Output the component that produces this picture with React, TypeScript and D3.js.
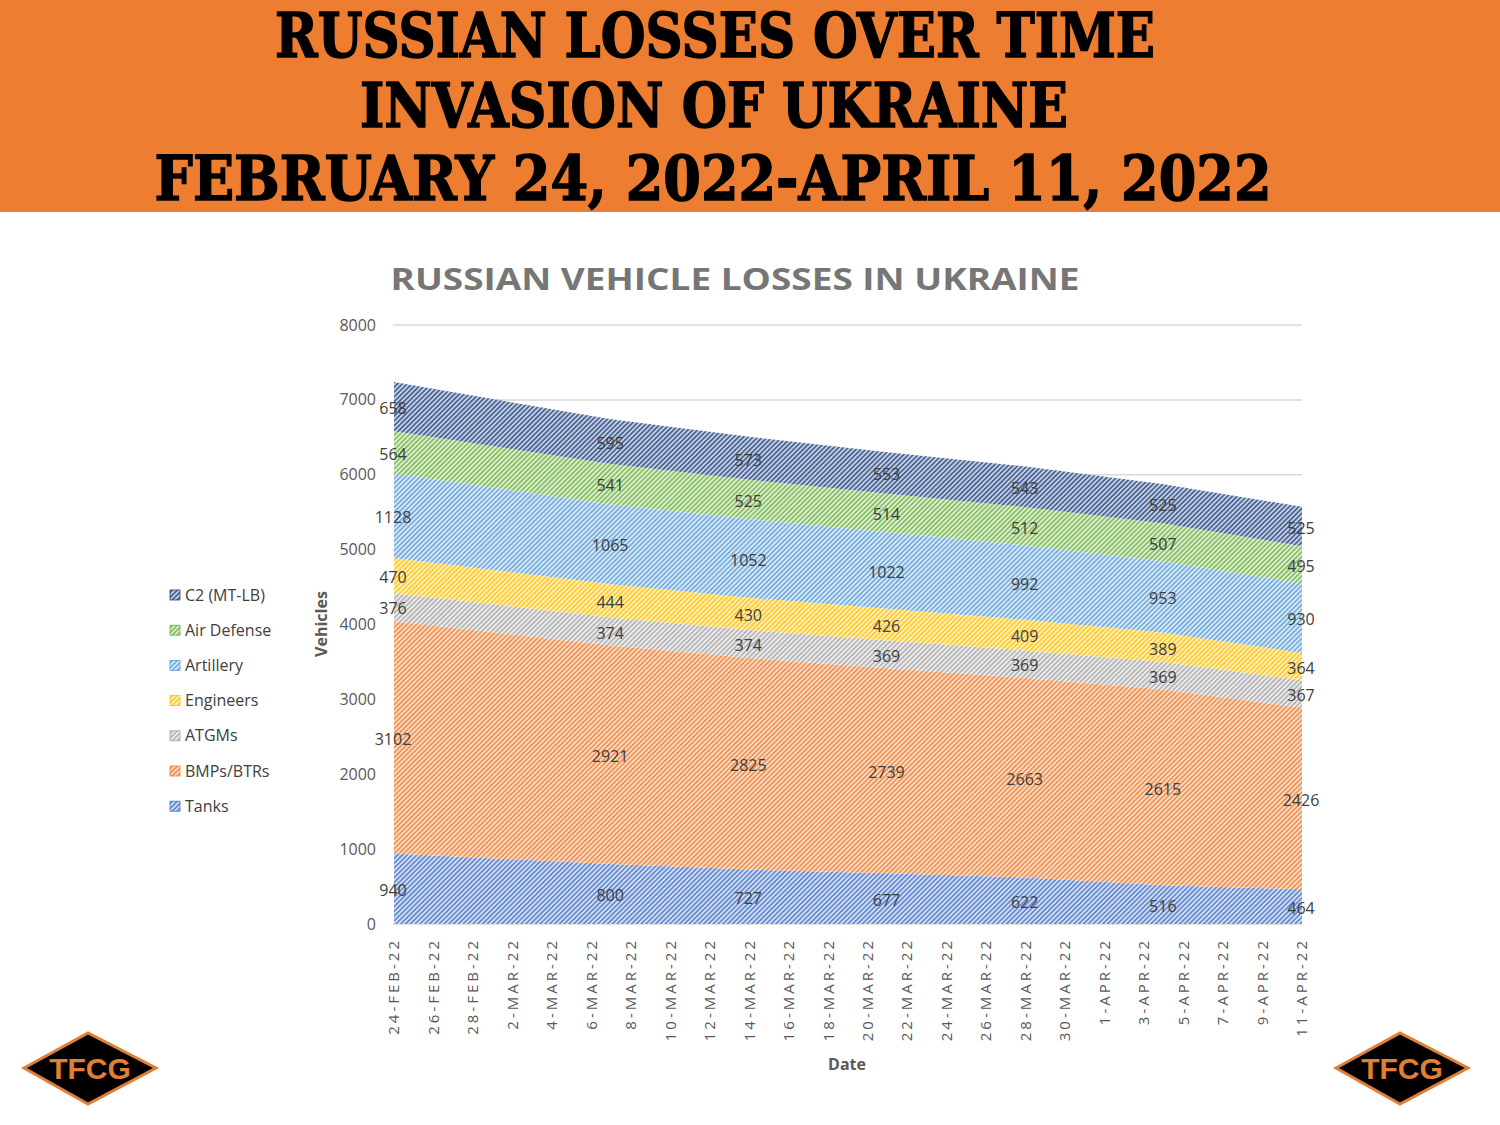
import React from "react";
import * as d3 from "d3";

const dates = ["2022-02-24", "2022-03-07", "2022-03-14", "2022-03-21", "2022-03-28", "2022-04-04", "2022-04-11"];
const seriesNames = ["Tanks", "BMPs/BTRs", "ATGMs", "Engineers", "Artillery", "Air Defense", "C2 (MT-LB)"];
const tanks = [940, 800, 727, 677, 622, 516, 464];
const bmps = [3102, 2921, 2825, 2739, 2663, 2615, 2426];
const atgms = [376, 374, 374, 369, 369, 369, 367];
const engineers = [470, 444, 430, 426, 409, 389, 364];
const artillery = [1128, 1065, 1052, 1022, 992, 953, 930];
const airDefense = [564, 541, 525, 514, 512, 507, 495];
const c2 = [658, 595, 573, 553, 543, 525, 525];
const yTicks = [0, 1000, 2000, 3000, 4000, 5000, 6000, 7000, 8000];
const xTickDates = [
  "2022-02-24", "2022-02-26", "2022-02-28", "2022-03-02", "2022-03-04", "2022-03-06",
  "2022-03-08", "2022-03-10", "2022-03-12", "2022-03-14", "2022-03-16", "2022-03-18",
  "2022-03-20", "2022-03-22", "2022-03-24", "2022-03-26", "2022-03-28", "2022-03-30",
  "2022-04-01", "2022-04-03", "2022-04-05", "2022-04-07", "2022-04-09", "2022-04-11",
];
const colors = ["#4472C4", "#ED7D31", "#A5A5A5", "#FFC000", "#5B9BD5", "#70AD47", "#264478"];
const bgColors = ["#d3def5", "#fcdcc6", "#ececec", "#fff0bf", "#d8e9f8", "#dcf0cf", "#c4cfe6"];

const parse = d3.timeParse("%Y-%m-%d");
const fmt = d3.timeFormat("%-d-%b-%y");

export default function App() {
  const W = 1500, H = 1125;
  const x = d3.scaleTime().domain([parse(dates[0])!, parse(dates[dates.length - 1])!]).range([394, 1302]);
  const y = d3.scaleLinear().domain([0, 8000]).range([924, 325]);
  const all = [tanks, bmps, atgms, engineers, artillery, airDefense, c2];
  const rows = dates.map((d, i) => {
    const r: any = { date: parse(d) };
    seriesNames.forEach((s, k) => (r[s] = all[k][i]));
    return r;
  });
  const stack = d3.stack().keys(seriesNames)(rows as any);
  const area = d3
    .area<any>()
    .x((d) => x(d.data.date))
    .y0((d) => y(d[0]))
    .y1((d) => y(d[1]));
  const txt = "#404040";
  const font = "'Open Sans', sans-serif";
  const P = 3.4;

  return (
    <div style={{ position: "absolute", left: 0, top: 0 }}>
      <svg width={W} height={H} style={{ display: "block", background: "#fff" }}>
        <defs>
          {colors.map((c, k) => (
            <pattern key={k} id={`hatch${k}`} patternUnits="userSpaceOnUse" width={P} height={P} patternTransform="rotate(45)">
              <rect width={P} height={P} fill={bgColors[k]} />
              <line x1={P / 2} y1={0} x2={P / 2} y2={P} stroke={c} strokeWidth={1.3} />
            </pattern>
          ))}
        </defs>
        {/* header */}
        <rect x={0} y={0} width={W} height={212} fill="#ED7D31" />
        <g fontFamily="'DejaVu Serif', serif" fontWeight={900} fill="#000" stroke="#000" strokeWidth={1.5} textAnchor="middle">
          <text x={715} y={57} fontSize={62} textLength={880} lengthAdjust="spacingAndGlyphs">RUSSIAN LOSSES OVER TIME</text>
          <text x={714} y={127} fontSize={62} textLength={708} lengthAdjust="spacingAndGlyphs">INVASION OF UKRAINE</text>
          <text x={713} y={200} fontSize={62} textLength={1117} lengthAdjust="spacingAndGlyphs">FEBRUARY 24, 2022-APRIL 11, 2022</text>
        </g>
        {/* chart title */}
        <text x={735} y={290} fontFamily={font} fontWeight={700} fontSize={31} fill="#767676" textAnchor="middle" textLength={689} lengthAdjust="spacingAndGlyphs">
          RUSSIAN VEHICLE LOSSES IN UKRAINE
        </text>
        {/* gridlines */}
        {yTicks.map((t) => (
          <line key={t} x1={393} x2={1302} y1={y(t)} y2={y(t)} stroke="#d9d9d9" strokeWidth={1.5} />
        ))}
        {/* areas */}
        {stack.map((s, k) => (
          <path key={k} d={area(s as any) || ""} fill={`url(#hatch${k})`} />
        ))}
        {/* y tick labels */}
        {yTicks.map((t) => (
          <text key={t} x={376} y={y(t)} dy="0.35em" textAnchor="end" fontFamily={font} fontSize={16} fill="#595959">
            {t}
          </text>
        ))}
        {/* data labels */}
        {stack.map((s, k) =>
          s.map((d: any, i: number) => (
            <text key={`${k}-${i}`} x={x(d.data.date) - 1} y={y((d[0] + d[1]) / 2)} dy="0.45em" textAnchor="middle" fontFamily={font} fontSize={16} fill={txt}>
              {all[k][i]}
            </text>
          ))
        )}
        {/* x tick labels */}
        {xTickDates.map((ds) => {
          const dd = parse(ds)!;
          return (
            <text key={ds} transform={`translate(${x(dd)},938) rotate(-90)`} dy="0.35em" textAnchor="end" fontFamily={font} fontSize={15} letterSpacing={3} fill="#595959">
              {fmt(dd).toUpperCase()}
            </text>
          );
        })}
        {/* axis titles */}
        <text transform="translate(321,624) rotate(-90)" dy="0.35em" textAnchor="middle" fontFamily={font} fontWeight={700} fontSize={16} fill="#595959">
          Vehicles
        </text>
        <text x={847} y={1064} dy="0.35em" textAnchor="middle" fontFamily={font} fontWeight={700} fontSize={16} fill="#595959">
          Date
        </text>
        {/* legend */}
        {seriesNames
          .map((n, k) => ({ n, k }))
          .reverse()
          .map(({ n, k }, j) => (
            <g key={n} transform={`translate(170,${595 + j * 35.2})`}>
              <rect x={0} y={-5} width={10} height={10} fill={`url(#hatch${k})`} stroke={colors[k]} strokeWidth={0.8} />
              <text x={15} y={0} dy="0.35em" fontFamily={font} fontSize={16} fill={txt}>
                {n}
              </text>
            </g>
          ))}
        {/* logos */}
        {[90, 1402].map((cx) => (
          <g key={cx} transform={`translate(${cx},1068)`}>
            <polygon points="-66,0 -2,-35 66,0 -2,36" fill="#000" stroke="#E07F36" strokeWidth={3} strokeLinejoin="miter" />
            <text x={0} y={0} dy="0.36em" textAnchor="middle" fontFamily="'Liberation Sans', Arial, sans-serif" fontWeight={700} fontSize={30} fill="#E07F36">
              TFCG
            </text>
          </g>
        ))}
      </svg>
    </div>
  );
}
